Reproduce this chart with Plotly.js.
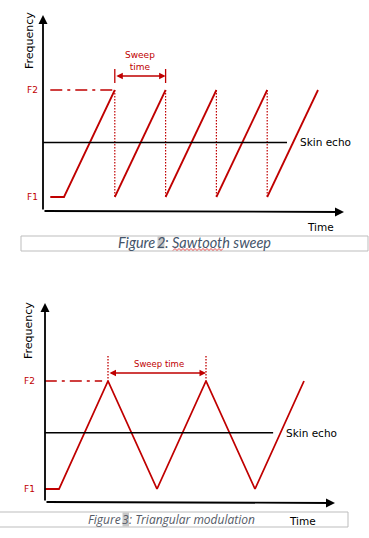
<!DOCTYPE html>
<html>
<head>
<meta charset="utf-8">
<script src="https://cdn.plot.ly/plotly-3.0.1.min.js"></script>
<style>html,body{margin:0;padding:0;background:#fff}#chart{width:369px;height:538px}</style>
</head>
<body>
<div id="chart"></div>
<script>
// ---------- data (time in sweep periods, frequency: F1 = 0, F2 = 1) ----------
const sawTime      = [-0.27, 0, 1, null, 1, 2, null, 2, 3, null, 3, 4, null, 4, 5];
const sawFreq      = [0, 0, 1, null, 0, 1, null, 0, 1, null, 0, 1, null, 0, 1];
const sawResetTime = [1, 1, null, 2, 2, null, 3, 3, null, 4, 4];
const sawResetFreq = [1, 0, null, 1, 0, null, 1, 0, null, 1, 0];
const sawF2Time    = [-0.27, 1];
const sawF2Freq    = [1, 1];
const sawEchoTime  = [-0.41, 4.39];
const sawEchoFreq  = [0.51, 0.51];

const triTime      = [-0.29, 0, 1, 2, 3, 4, 5];
const triFreq      = [0, 0, 1, 0, 1, 0, 1];
const triF2Time    = [-0.29, 0.88];
const triF2Freq    = [1, 1];
const triEchoTime  = [-0.29, 4.37];
const triEchoFreq  = [0.52, 0.52];

const freqTicks    = ['F1', 'F2'];
const freqTickVals = [0, 1];

// ---------- helpers for layout placement ----------
const W = 369, H = 538;
const RED = '#C00000';
const tx = p => (p - 64) / 50.8, ty = p => (197 - p) / 107;   // top chart
const bx = p => (p - 59) / 49,   by = p => (489 - p) / 108;   // bottom chart
const px = p => p / W, py = p => 1 - p / H;

const solid = {color: RED, width: 1.8};
const traces = [
  {x: sawTime, y: sawFreq, xaxis: 'x', yaxis: 'y', mode: 'lines', line: solid, connectgaps: false},
  {x: sawResetTime, y: sawResetFreq, xaxis: 'x', yaxis: 'y', mode: 'lines', line: {color: RED, width: 1.2, dash: '1.5px,1.5px'}},
  {x: sawF2Time, y: sawF2Freq, xaxis: 'x', yaxis: 'y', mode: 'lines', line: {color: RED, width: 1.6, dash: '12px,5px,3px,5px'}},
  {x: sawEchoTime, y: sawEchoFreq, xaxis: 'x', yaxis: 'y', mode: 'lines', line: {color: '#000', width: 1.5}},
  {x: triTime, y: triFreq, xaxis: 'x2', yaxis: 'y2', mode: 'lines', line: solid},
  {x: triF2Time, y: triF2Freq, xaxis: 'x2', yaxis: 'y2', mode: 'lines', line: {color: RED, width: 1.6, dash: '12px,5px,3px,5px'}},
  {x: triEchoTime, y: triEchoFreq, xaxis: 'x2', yaxis: 'y2', mode: 'lines', line: {color: '#000', width: 1.5}}
];

const hidden = {visible: false, fixedrange: true};
const lblFont = {family: 'DejaVu Sans', size: 10.5, color: '#000'};
const redFont = {family: 'DejaVu Sans', size: 9, color: RED};
const cap1Font = {family: 'Lato', size: 14.5, style: 'italic', color: '#44546A'};
const cap2Font = {family: 'Open Sans', size: 12, style: 'italic', color: '#555A66'};

function axisArrow(xr, yr, x, y, ax, ay) {
  return {xref: xr, yref: yr, axref: xr, ayref: yr, x: x, y: y, ax: ax, ay: ay, text: '',
          showarrow: true, arrowhead: 2, arrowsize: 1, arrowwidth: 1.8, arrowcolor: '#000'};
}
function sweepArrow(xr, yr, x0, x1, y) {
  return {xref: xr, yref: yr, axref: xr, ayref: yr, x: x1, y: y, ax: x0, ay: y, text: '',
          showarrow: true, arrowhead: 2, startarrowhead: 2, arrowside: 'end+start',
          arrowsize: 1, startarrowsize: 1, arrowwidth: 1.3, arrowcolor: RED};
}
function cap(x, y, text, anchor, font) {
  return {xref: 'paper', yref: 'paper', x: px(x), y: py(y), xanchor: anchor, yanchor: 'middle',
          text: text, showarrow: false, font: font, borderpad: 0, borderwidth: 0};
}

const annotations = [
  // top chart
  axisArrow('x', 'y', tx(43), ty(15), tx(43), ty(211)),
  axisArrow('x', 'y', tx(344), ty(212), tx(43), ty(211)),
  {xref: 'x', yref: 'y', x: tx(29), y: ty(41), text: 'Frequency', textangle: -90, showarrow: false, font: {family: 'DejaVu Sans', size: 11, color: '#000'}},
  {xref: 'x', yref: 'y', x: tx(32), y: freqTickVals[1], text: freqTicks[1], showarrow: false, font: redFont},
  {xref: 'x', yref: 'y', x: tx(32), y: freqTickVals[0], text: freqTicks[0], showarrow: false, font: redFont},
  {xref: 'x', yref: 'y', x: 1.5, y: ty(61), text: 'Sweep<br>time', showarrow: false, font: redFont},
  sweepArrow('x', 'y', 1, 2, ty(76)),
  {xref: 'x', yref: 'y', x: tx(298), y: sawEchoFreq[0], xanchor: 'left', text: 'Skin echo', showarrow: false, font: lblFont},
  {xref: 'x', yref: 'y', x: tx(320), y: ty(227), text: 'Time', showarrow: false, font: lblFont},
  cap(155, 243, 'Figure', 'right', cap1Font),
  cap(161, 243, '2', 'center', cap1Font),
  cap(164.5, 243, ': Sawtooth sweep', 'left', cap1Font),
  // bottom chart
  axisArrow('x2', 'y2', bx(45), by(303), bx(45), by(502)),
  axisArrow('x2', 'y2', bx(335), by(503), bx(45), by(502)),
  {xref: 'x2', yref: 'y2', x: bx(28), y: by(331), text: 'Frequency', textangle: -90, showarrow: false, font: {family: 'DejaVu Sans', size: 11, color: '#000'}},
  {xref: 'x2', yref: 'y2', x: bx(29), y: freqTickVals[1], text: freqTicks[1], showarrow: false, font: redFont},
  {xref: 'x2', yref: 'y2', x: bx(29), y: freqTickVals[0], text: freqTicks[0], showarrow: false, font: redFont},
  {xref: 'x2', yref: 'y2', x: bx(159), y: by(364), text: 'Sweep time', showarrow: false, font: {family: 'DejaVu Sans', size: 8.5, color: RED}},
  sweepArrow('x2', 'y2', 1, 3, by(373)),
  {xref: 'x2', yref: 'y2', x: bx(284), y: triEchoFreq[0], xanchor: 'left', text: 'Skin echo', showarrow: false, font: lblFont},
  {xref: 'x2', yref: 'y2', x: bx(302), y: by(521), text: 'Time', showarrow: false, font: lblFont},
  cap(120.5, 519.5, 'Figure', 'right', cap2Font),
  cap(125.75, 519.5, '3', 'center', cap2Font),
  cap(129, 519.5, ': Triangular modulation', 'left', cap2Font)
];

// wavy spell-check underline under "Sawtooth"
let wave = '';
for (let i = 0, xw = 173; xw <= 223; i++, xw += 2) {
  wave += (i === 0 ? 'M' : 'L') + px(xw) + ',' + py(i % 2 ? 248.5 : 250.5);
}

const shapes = [
  // sweep-time bracket ticks (top)
  {type: 'line', xref: 'x', yref: 'y', x0: 1, x1: 1, y0: ty(69), y1: ty(83), line: {color: RED, width: 1.3}},
  {type: 'line', xref: 'x', yref: 'y', x0: 2, x1: 2, y0: ty(69), y1: ty(83), line: {color: RED, width: 1.3}},
  // sweep-time dotted markers (bottom)
  {type: 'line', xref: 'x2', yref: 'y2', x0: 1, x1: 1, y0: by(356), y1: 1, line: {color: RED, width: 1.3, dash: '1.5px,1.5px'}},
  {type: 'line', xref: 'x2', yref: 'y2', x0: 3, x1: 3, y0: by(356), y1: 1, line: {color: RED, width: 1.3, dash: '1.5px,1.5px'}},
  // caption boxes
  {type: 'rect', xref: 'paper', yref: 'paper', x0: px(21), x1: px(368), y0: py(236), y1: py(251), line: {color: '#BDBDBD', width: 1}},
  {type: 'rect', xref: 'paper', yref: 'paper', x0: px(-2), x1: px(348), y0: py(512), y1: py(527), line: {color: '#BDBDBD', width: 1}},
  // field highlight behind figure numbers
  {type: 'rect', xref: 'paper', yref: 'paper', x0: px(157.5), x1: px(164.5), y0: py(236.5), y1: py(248.5), line: {width: 0}, fillcolor: '#C8C8C8', layer: 'below'},
  {type: 'rect', xref: 'paper', yref: 'paper', x0: px(122.5), x1: px(129), y0: py(512.5), y1: py(526.5), line: {width: 0}, fillcolor: '#C8C8C8', layer: 'below'},
  {type: 'path', xref: 'paper', yref: 'paper', path: wave, line: {color: '#E02020', width: 0.8}}
];

const layout = {
  width: W, height: H,
  margin: {l: 0, r: 0, t: 0, b: 0},
  paper_bgcolor: '#fff', plot_bgcolor: 'rgba(0,0,0,0)',
  showlegend: false,
  xaxis:  Object.assign({domain: [0, 1], range: [tx(0), tx(W)], anchor: 'y'}, hidden),
  yaxis:  Object.assign({domain: [py(260), 1], range: [ty(260), ty(0)], anchor: 'x'}, hidden),
  xaxis2: Object.assign({domain: [0, 1], range: [bx(0), bx(W)], anchor: 'y2'}, hidden),
  yaxis2: Object.assign({domain: [0, py(270)], range: [by(H), by(270)], anchor: 'x2'}, hidden),
  annotations: annotations,
  shapes: shapes
};

Plotly.newPlot('chart', traces, layout, {staticPlot: true, displayModeBar: false});
</script>
</body>
</html>
